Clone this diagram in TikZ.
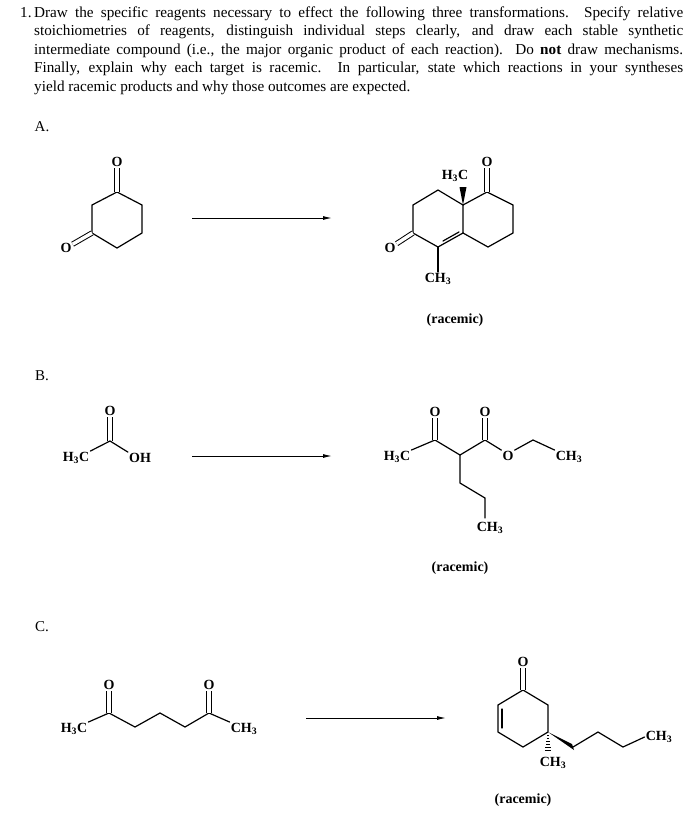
\documentclass[tikz,border=0pt]{standalone}
\usepackage{fontspec}
\usetikzlibrary{arrows.meta}
\setmainfont{Liberation Serif}
\begin{document}
\begin{tikzpicture}[x=1pt,y=-1pt,
  bond/.style={line width=1.2pt,line cap=round},
  dbl/.style={line width=1pt,double,double distance=3.4pt},
  atom/.style={font=\bfseries\fontsize{14}{14}\selectfont,inner sep=1pt},
  para/.style={anchor=base west,inner sep=0pt,font=\fontsize{15.2}{18}\selectfont},
  lbl/.style={font=\fontsize{15}{16}\selectfont,inner sep=0pt},
  rac/.style={font=\bfseries\fontsize{14}{14}\selectfont},
  arr/.style={line width=1pt,-{Latex[length=9pt,width=4pt]}}]
\useasboundingbox (0,0) rectangle (693,814);
% paragraph
\node[para] (n1) at (20,17) {1.};
\node[para] (l1) at (34,17) {\makebox[649pt][s]{Draw the specific reagents necessary to effect the following three transformations. Specify relative}};
\node[para] (l2) at (34,35.5) {\makebox[649pt][s]{stoichiometries of reagents, distinguish individual steps clearly, and draw each stable synthetic}};
\node[para] (l3) at (34,54) {\makebox[649pt][s]{intermediate compound (i.e., the major organic product of each reaction). Do \textbf{not} draw mechanisms.}};
\node[para] (l4) at (34,72.5) {\makebox[649pt][s]{Finally, explain why each target is racemic. In particular, state which reactions in your syntheses}};
\node[para] (l5) at (34,91) {yield racemic products and why those outcomes are expected.};
\node[lbl] (A) at (42,127) {A.};
\node[lbl] (B) at (42,376) {B.};
\node[lbl] (C) at (42,627) {C.};
% ---- A start
\node[atom] (ao1) at (117,162) {O};
\node[atom] (ao2) at (66,248) {O};
\draw[bond] (117,192)--(142,205)--(142,233)--(117,248)--(92,233)--(92,205)--cycle;
\draw[dbl] (117,192)--(ao1);
\draw[dbl] (92,233)--(ao2);
\draw[arr] (192,218)--(332,218);
% ---- A product
\node[atom] (bo1) at (487,162) {O};
\node[atom] (bo2) at (390,248) {O};
\node[atom] (bme1) at (455,176) {H\textsubscript{3}C};
\node[atom] (bme2) at (438,279) {CH\textsubscript{3}};
\draw[bond] (487,192)--(513,205)--(513,233)--(488,247)--(463,233)--(463,205)--cycle;
\draw[bond] (463,205)--(438,190)--(413,205)--(413,233)--(438,247)--(463,233);
\draw[bond] (443,241)--(459,232);
\draw[dbl] (487,192)--(bo1);
\draw[dbl] (413,233)--(bo2);
\draw[bond] (438,247)--(bme2);
\fill (463,205)--(459.5,187)--(466.5,187)--cycle;
\node[rac] (ra) at (455,320) {(racemic)};
% ---- B start
\node[atom] (co) at (110,411) {O};
\node[atom] (cme) at (76,458) {H\textsubscript{3}C};
\node[atom] (coh) at (140,458) {OH};
\draw[dbl] (110,441)--(co);
\draw[bond] (cme.north east)--(110,441)--(coh.north west);
\draw[arr] (192,456)--(332,456);
% ---- B product
\node[atom] (do1) at (435,412) {O};
\node[atom] (do2) at (485,412) {O};
\node[atom] (dme) at (397,457) {H\textsubscript{3}C};
\node[atom] (doe) at (508,456) {O};
\node[atom] (dme2) at (569,457) {CH\textsubscript{3}};
\node[atom] (dme3) at (490,528) {CH\textsubscript{3}};
\draw[bond] (dme.north east)--(435,440)--(460,455)--(485,440)--(doe.north west);
\draw[bond] (doe.north east)--(533,440)--(dme2.north west);
\draw[dbl] (435,440)--(do1);
\draw[dbl] (485,440)--(do2);
\draw[bond] (460,455)--(460,483)--(485,498)--(485,518);
\node[rac] (rb) at (460,568) {(racemic)};
% ---- C start
\node[atom] (eo1) at (109,685) {O};
\node[atom] (eo2) at (209,685) {O};
\node[atom] (eme1) at (74,729) {H\textsubscript{3}C};
\node[atom] (eme2) at (244,729) {CH\textsubscript{3}};
\draw[bond] (eme1.north east)--(109,713)--(135,727)--(160,713)--(185,727)--(209,713)--(eme2.north west);
\draw[dbl] (109,713)--(eo1);
\draw[dbl] (209,713)--(eo2);
\draw[arr] (306,718)--(446,718);
% ---- C product
\node[atom] (fo) at (523,662) {O};
\node[atom] (fme1) at (553,763) {CH\textsubscript{3}};
\node[atom] (fme2) at (659,737) {CH\textsubscript{3}};
\draw[bond] (523,690)--(548,705)--(548,732)--(523,747)--(498,732)--(498,705)--cycle;
\draw[bond] (502,709)--(502,728);
\draw[dbl] (523,690)--(fo);
\fill (548,732)--(572,744)--(574,750)--cycle;
\draw[bond] (573,747)--(598,732)--(623,747)--(fme2.west);
\foreach \i in {0,...,5}{\draw[line width=0.9pt] ({548-0.6-0.5*\i},{735+3*\i})--({548+0.6+0.5*\i},{735+3*\i});}
\node[rac] (rc) at (523,800) {(racemic)};
\end{tikzpicture}
\end{document}
